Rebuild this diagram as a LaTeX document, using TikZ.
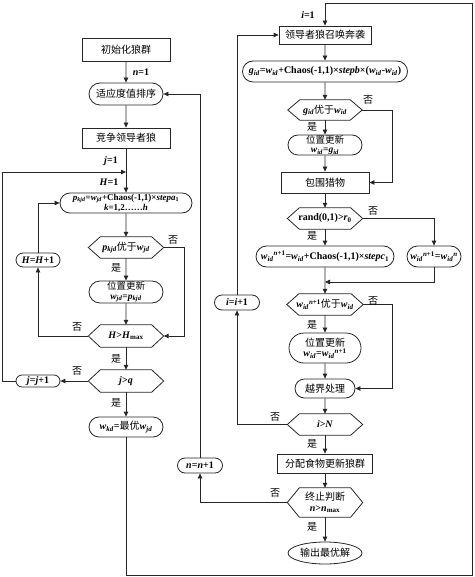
\documentclass[tikz,border=0pt]{standalone}
\usepackage{fontspec}
\setmainfont{Liberation Serif}
\newfontfamily\cjk{Noto Sans CJK SC}
\usetikzlibrary{arrows.meta,shapes.misc,shapes.geometric}
\newcommand\cn[1]{{\cjk\mdseries #1}}
\newcommand\bi[1]{\textbf{\textit{#1}}}
\newcommand\vs[2]{\bi{#1}\textsubscript{\bi{#2}}}
\newcommand\hexn[6]{%
\node[txt, minimum width=#4pt, minimum height=#5pt] (#1) at (#2,#3) {#6};
\draw[ln] (#1.west) -- ([xshift=12pt]#1.north west) -- ([xshift=-12pt]#1.north east) -- (#1.east) -- ([xshift=-12pt]#1.south east) -- ([xshift=12pt]#1.south west) -- cycle;}
\tikzset{
  ln/.style={line width=0.8pt, draw=black!85},
  txt/.style={inner sep=0pt, align=center, font=\fontsize{10}{10.5}\selectfont\bfseries},
  rbox/.style={txt, ln, rectangle},
  rr/.style={txt, ln, rounded rectangle},
  el/.style={txt, ln, ellipse},
  arr/.style={ln, -{Triangle[length=5pt,width=4.5pt]}},
  lab/.style={inner sep=0pt, font=\fontsize{10}{10.5}\selectfont\bfseries},
}
\begin{document}
\begin{tikzpicture}[x=1pt,y=-1pt]
\useasboundingbox (0,0) rectangle (474,577);
% ---------- left column ----------
\node[rbox, minimum width=88pt, minimum height=23pt] (init) at (126,49.5) {\cn{初始化狼群}};
\node[rr, minimum width=74pt, minimum height=22pt] (sort) at (126,94) {\cn{适应度值排序}};
\node[rbox, minimum width=88pt, minimum height=20pt] (comp) at (126,138) {\cn{竞争领导者狼}};
\node[rr, minimum width=132pt, minimum height=20pt, font=\fontsize{9}{8.5}\selectfont\bfseries] (pk) at (126,203) {\vs{p}{kjd}=\vs{w}{jd}+Chaos(-1,1)×\bi{stepa}\textsubscript{1}\\\bi{k}=1,2……\bi{h}};
\hexn{h1}{126}{247.5}{75}{21}{\vs{p}{kjd}\cn{优于}\vs{w}{jd}}
\node[rr, minimum width=74pt, minimum height=22pt, font=\fontsize{9.5}{9.5}\selectfont\bfseries] (u1) at (126,292) {\cn{位置更新}\\\vs{w}{jd}=\vs{p}{kjd}};
\hexn{h2}{126}{336}{75}{22}{\bi{H}>\bi{H}\textsubscript{max}}
\hexn{h3}{126}{381}{75}{22}{\bi{j}>\bi{q}}
\node[rr, minimum width=74pt, minimum height=20pt] (wkd) at (126,427) {\vs{w}{kd}=\cn{最优}\vs{w}{jd}};
\node[rr, minimum width=44pt, minimum height=14pt] (HH) at (38,260) {\bi{H}=\bi{H}+1};
\node[rr, minimum width=44pt, minimum height=12pt] (jj) at (38,381) {\bi{j}=\bi{j}+1};
\node[rr, minimum width=45pt, minimum height=15pt] (nn) at (200,465.5) {\bi{n}=\bi{n}+1};
% ---------- right column ----------
\node[rbox, minimum width=92pt, minimum height=18pt] (lead) at (325,35) {\cn{领导者狼召唤奔袭}};
\node[rr, minimum width=165pt, minimum height=21pt] (gid) at (325,71.5) {\vs{g}{id}=\vs{w}{id}+Chaos(-1,1)×\bi{stepb}×(\vs{w}{id}-\vs{w}{id})};
\hexn{hg}{325}{110}{74}{20}{\vs{g}{id}\cn{优于}\vs{w}{id}}
\node[rr, minimum width=74pt, minimum height=20pt, font=\fontsize{9.5}{9}\selectfont\bfseries] (ug) at (325,145) {\cn{位置更新}\\\vs{w}{id}=\vs{g}{id}};
\node[rbox, minimum width=88pt, minimum height=21pt] (encl) at (325,182.5) {\cn{包围猎物}};
\hexn{hr}{325}{218.5}{75}{21}{rand(0,1)>\bi{r}\textsubscript{0}}
\node[rr, minimum width=138pt, minimum height=21pt] (wn1) at (325,256.5) {\vs{w}{id}\textsuperscript{\bi{n}+1}=\vs{w}{id}+Chaos(-1,1)×\bi{stepc}\textsubscript{1}};
\node[rr, minimum width=54pt, minimum height=21pt] (wn) at (434,256.5) {\vs{w}{id}\textsuperscript{\bi{n}+1}=\vs{w}{id}\textsuperscript{\bi{n}}};
\hexn{hw}{325}{304.5}{76}{21}{\vs{w}{id}\textsuperscript{\bi{n}+1}\cn{优于}\vs{w}{id}}
\node[rr, minimum width=72pt, minimum height=30pt] (u2) at (325,348) {\cn{位置更新}\\\vs{w}{id}=\vs{w}{id}\textsuperscript{\bi{n}+1}};
\node[rr, minimum width=60pt, minimum height=19pt] (bound) at (325,388.5) {\cn{越界处理}};
\hexn{hN}{325}{424.5}{75}{21}{\bi{i}>\bi{N}}
\node[rbox, minimum width=95pt, minimum height=19pt] (alloc) at (325,463.5) {\cn{分配食物更新狼群}};
\hexn{term}{325}{502.5}{75}{29}{\cn{终止判断}\\\bi{n}>\bi{n}\textsubscript{max}}
\node[el, minimum width=74pt, minimum height=22pt] (out) at (325,553) {\cn{输出最优解}};
\node[rr, minimum width=45pt, minimum height=15pt] (ii) at (237,302.5) {\bi{i}=\bi{i}+1};
% ---------- helper coordinates ----------
\coordinate (jtop) at (126,172);
\coordinate (mid) at (325,282);
% ---------- connectors left ----------
\draw[arr] (init) -- (sort);
\draw[arr] (sort) -- (comp);
\draw[arr] (comp) -- (pk);
\draw[arr] (jj.west) -- (2,381) -- (2,172) -- (jtop);
\draw[arr] (pk) -- (h1);
\draw[arr] (h1) -- (u1);
\draw[arr] (h1.east) -- (184,247.5) -- (184,336) -- (h2.east);
\draw[arr] (u1) -- (h2);
\draw[arr] (h2.west) -- (HH.south |- h2.west) -- (HH.south);
\draw[arr] (HH.north) -- (HH.north |- pk.west) -- (pk.west);
\draw[arr] (h2) -- (h3);
\draw[arr] (h3.west) -- (jj.east);
\draw[arr] (h3) -- (wkd);
\draw[arr] (wkd.south) -- (126,575) -- (472,575) -- (472,3) -- (325,3) -- (lead.north);
\draw[arr] (term.west) -- (nn.south |- term.west) -- (nn.south);
\draw[arr] (nn.north) -- (nn.north |- sort.east) -- (sort.east);
% ---------- connectors right ----------
\draw[arr] (lead) -- (gid);
\draw[arr] (gid) -- (hg);
\draw[arr] (hg.east) -- (392,110) -- (392,182.5) -- (encl.east);
\draw[arr] (hg) -- (ug);
\draw[arr] (ug) -- (encl);
\draw[arr] (encl) -- (hr);
\draw[arr] (hr.east) -- (wn.north |- hr.east) -- (wn.north);
\draw[arr] (hr) -- (wn1);
\draw[arr] (wn1) -- (hw);
\draw[arr] (wn.south) -- (wn.south |- mid) -- (mid);
\draw[arr] (hw.east) -- (392,304.5) -- (392,388.5) -- (bound.east);
\draw[arr] (hw) -- (u2);
\draw[arr] (u2) -- (bound);
\draw[arr] (bound) -- (hN);
\draw[arr] (hN.west) -- (ii.south |- hN.west) -- (ii.south);
\draw[arr] (ii.north) -- (ii.north |- lead.west) -- (lead.west);
\draw[arr] (hN) -- (alloc);
\draw[arr] (alloc) -- (term);
\draw[arr] (term) -- (out);
% ---------- labels ----------
\node[lab] at (141,72) {\bi{n}=1};
\node[lab] at (111,161) {\bi{j}=1};
\node[lab] at (109,182) {\bi{H}=1};
\node[lab] at (173,240) {\cn{否}};
\node[lab] at (116,268) {\cn{是}};
\node[lab] at (77,327) {\cn{否}};
\node[lab] at (116,359) {\cn{是}};
\node[lab] at (77,371) {\cn{否}};
\node[lab] at (116,403) {\cn{是}};
\node[lab] at (308,15) {\bi{i}=1};
\node[lab] at (368,100) {\cn{否}};
\node[lab] at (312,127) {\cn{是}};
\node[lab] at (373,211) {\cn{否}};
\node[lab] at (312,236) {\cn{是}};
\node[lab] at (373,301) {\cn{否}};
\node[lab] at (312,325) {\cn{是}};
\node[lab] at (275,417) {\cn{否}};
\node[lab] at (312,444) {\cn{是}};
\node[lab] at (275,493) {\cn{否}};
\node[lab] at (312,527) {\cn{是}};
\end{tikzpicture}
\end{document}
